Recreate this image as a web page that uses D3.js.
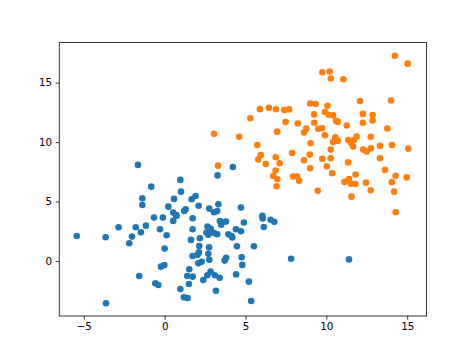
<!DOCTYPE html>
<html>
<head>
<meta charset="utf-8">
<script src="https://cdn.jsdelivr.net/npm/d3@7"></script>
<style>
html,body{margin:0;padding:0;background:#fff;}
svg{display:block;}
</style>
</head>
<body>
<svg id="chart" width="474" height="355"></svg>
<script>
const blueX = [-5.44,-3.65,-3.63,-2.85,-2.02,-2.19,-1.79,-1.47,-1.16,-1.38,-1.38,-0.83,-1.57,-0.66,-0.11,-0.29,0.12,0.0,-0.23,-0.02,-0.58,-0.39,0.97,1.01,0.58,0.23,0.53,0.70,0.53,1.21,1.30,1.67,1.91,2.1,1.73,1.73,1.63,2.18,2.14,1.73,2.02,2.29,1.52,1.40,1.73,1.50,0.97,1.19,1.42,2.39,2.64,2.84,3.11,3.4,3.17,2.75,2.7,2.76,2.58,2.7,2.85,2.65,3.25,3.05,2.76,3.32,3.25,3.05,3.42,3.5,3.79,3.71,3.8,3.94,4.18,3.27,4.41,4.47,4.42,4.72,4.9,4.72,4.14,5.52,4.76,4.8,5.21,5.35,6.04,6.06,6.13,6.55,6.78,7.82,11.4,4.22,-1.65,2.12,2.08,0.74];
const blueY = [2.1,2.0,-3.56,2.84,2.05,1.49,2.84,2.41,2.97,5.27,4.71,6.25,-1.26,3.65,3.65,2.67,2.16,1.04,-0.48,-0.34,-1.88,-2.02,6.82,5.83,5.22,4.57,4.07,3.87,3.37,4.21,4.35,5.19,5.47,4.65,3.59,2.67,1.77,1.91,1.26,0.42,0.5,-0.06,-0.7,-1.26,-1.32,-1.94,-2.36,-3.06,-3.11,-1.6,-1.2,-0.9,-1.2,-1.42,-2.5,1.15,0.6,0.1,2.4,2.2,2.7,2.9,2.25,2.35,4.4,4.77,4.2,4.1,3.35,3.05,3.31,0.03,0.27,2.25,1.98,7.2,2.67,1.23,-1.13,4.49,3.24,2.5,2.1,1.24,0.31,-0.33,-1.74,-3.37,3.8,3.57,2.86,3.47,3.29,0.18,0.13,7.9,8.08,0.72,-0.2,3.81];

const orangeX = [14.24,15.03,9.75,10.2,10.28,11.05,9.0,9.34,10.07,12.08,14.0,5.89,6.45,6.88,7.4,7.7,5.3,7.48,8.23,9.24,9.25,9.91,10.14,10.41,10.6,10.7,11.26,12.26,12.26,12.86,12.86,13.77,8.76,8.62,9.5,9.73,9.91,6.96,4.61,3.05,5.73,9.03,10.55,10.7,10.41,11.35,11.56,11.66,11.87,11.7,12.75,12.28,12.49,12.76,13.32,14.06,15.07,10.27,5.95,5.79,6.25,6.87,7.11,7.88,8.97,8.62,9.0,9.75,10.27,10.03,10.36,11.35,13.32,13.63,6.86,6.72,6.96,6.92,7.95,8.19,8.32,14.28,14.05,14.97,11.81,11.12,11.4,11.52,11.79,12.45,9.47,11.55,12.74,14.19,14.29,3.3,11.5];
const orangeY = [17.26,16.6,15.88,15.93,15.35,15.29,13.25,13.2,13.05,13.45,13.5,12.77,12.88,12.76,12.69,12.75,12.01,11.69,11.56,12.33,11.63,12.53,12.3,12.25,11.8,11.7,11.4,12.37,11.63,12.28,11.82,11.14,11.13,10.8,11.12,11.17,10.57,10.88,10.45,10.69,9.76,9.9,10.4,10.1,10.0,10.18,9.9,9.62,10.46,10.18,10.45,9.37,9.2,9.48,9.68,9.76,9.45,9.37,8.9,8.53,8.16,8.73,8.22,9.08,8.95,8.47,7.8,8.6,8.64,7.96,7.38,8.29,8.64,7.66,7.6,7.15,6.89,6.28,7.1,7.1,6.75,7.17,6.63,7.03,7.27,6.65,6.89,6.5,6.47,6.59,5.9,5.41,5.95,5.83,4.1,8.02,10.05];

const xTicks = [-5, 0, 5, 10, 15];
const yTicks = [0, 5, 10, 15];

const mLeft = 59.25, mRight = 426.6, mTop = 42.6, mBottom = 316;

const svg = d3.select("#chart");
const x = d3.scaleLinear().domain([-6.52, 16.2]).range([mLeft, mRight]);
const y = d3.scaleLinear().domain([-4.63, 18.37]).range([mBottom, mTop]);

const blue = blueX.map((v,i)=>({x:v,y:blueY[i]}));
const orange = orangeX.map((v,i)=>({x:v,y:orangeY[i]}));

svg.append("g").selectAll("circle").data(blue).join("circle")
  .attr("cx", d=>x(d.x)).attr("cy", d=>y(d.y)).attr("r", 3.3).attr("fill", "#1f77b4");
svg.append("g").selectAll("circle").data(orange).join("circle")
  .attr("cx", d=>x(d.x)).attr("cy", d=>y(d.y)).attr("r", 3.3).attr("fill", "#ff7f0e");

const font = "'DejaVu Sans', sans-serif";
const xa = svg.append("g").attr("transform", `translate(0,${mBottom})`)
  .call(d3.axisBottom(x).tickValues(xTicks).tickSizeInner(3.6).tickSizeOuter(0).tickPadding(3.5).tickFormat(d=>d<0?"\u2212"+Math.abs(d):d));
const ya = svg.append("g").attr("transform", `translate(${mLeft},0)`)
  .call(d3.axisLeft(y).tickValues(yTicks).tickSizeInner(3.6).tickSizeOuter(0).tickPadding(3.5));
[xa, ya].forEach(a=>{
  a.select(".domain").remove();
  a.selectAll("line").attr("stroke", "#000").attr("stroke-width", 0.8);
  a.selectAll("text").attr("font-family", font).attr("font-size", "10.3px").attr("fill", "#000");
});

svg.append("rect").attr("x", mLeft).attr("y", mTop).attr("width", mRight-mLeft).attr("height", mBottom-mTop)
  .attr("fill", "none").attr("stroke", "#000").attr("stroke-width", 0.8);
</script>
</body>
</html>
